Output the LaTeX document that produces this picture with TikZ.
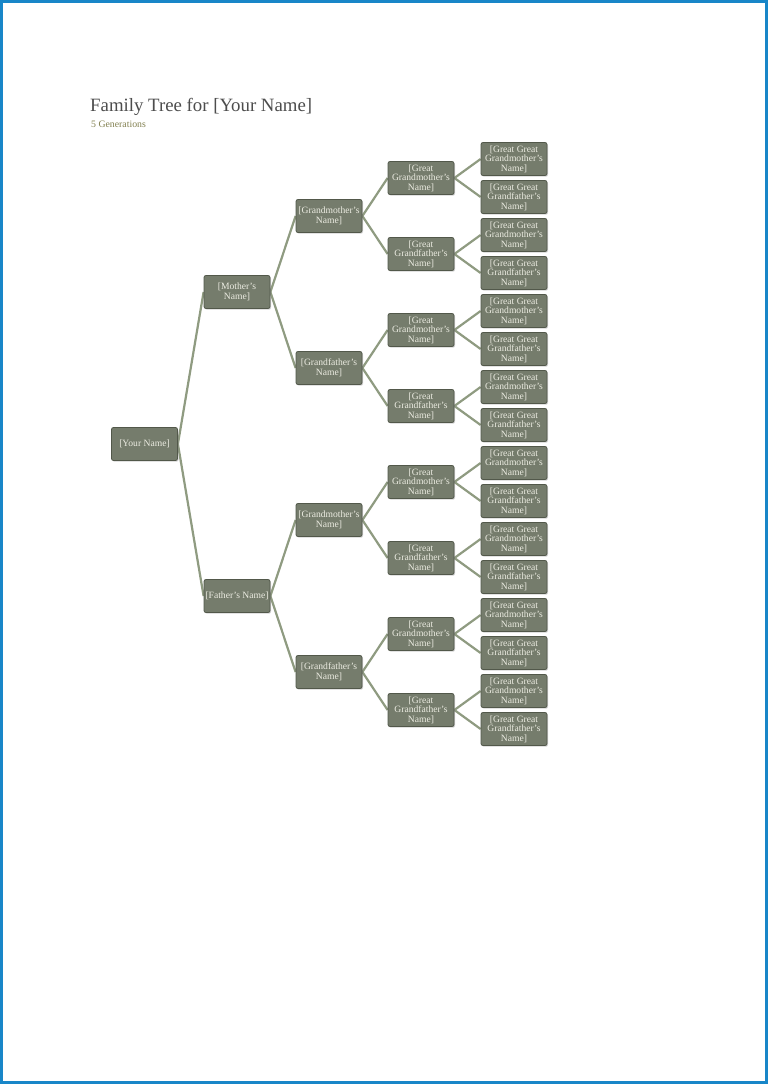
\documentclass[tikz,border=0pt]{standalone}
\usepackage{fontspec}
\setmainfont{Liberation Serif}
\usetikzlibrary{shadows}
\pgfdeclarelayer{background}
\pgfsetlayers{background,main}
\definecolor{boxfill}{RGB}{117,124,108}
\definecolor{boxedge}{RGB}{82,88,74}
\definecolor{linkc}{RGB}{143,155,129}
\definecolor{frameblue}{RGB}{24,134,200}
\definecolor{titlec}{RGB}{77,77,77}
\definecolor{subc}{RGB}{130,128,80}
\definecolor{boxtext}{RGB}{236,236,226}
\tikzset{
  person/.style={draw=boxedge, line width=0.8pt, fill=boxfill, rounded corners=2pt,
    minimum width=66pt, minimum height=33pt, inner sep=1pt, align=center,
    text=boxtext, font=\fontsize{9.6}{9.6}\selectfont,
    drop shadow={shadow xshift=1pt, shadow yshift=-1.2pt, opacity=0.35}},
  link/.style={draw=linkc, line width=2.2pt},
  titletext/.style={anchor=base west, inner sep=0pt, text=titlec, font=\fontsize{18.8}{20}\selectfont},
  subtext/.style={anchor=base west, inner sep=0pt, text=subc, font=\fontsize{9.8}{11}\selectfont},
}
\begin{document}
\begin{tikzpicture}[x=1pt,y=-1pt]
\useasboundingbox (0,0) rectangle (768,1084);
\begin{pgfonlayer}{background}
\fill[white] (0,0) rectangle (768,1084);
\end{pgfonlayer}
\draw[frameblue, line width=3pt] (1.5,1.5) rectangle (766.5,1082.5);

\node[titletext] (title) at (90,111) {Family Tree for [Your Name]};
\node[subtext] (sub) at (91,127) {5 Generations};

\node[person] (me) at (144.5,444) {[Your Name]};
\node[person] (mo) at (237,292) {[Mother’s\\Name]};
\node[person] (fa) at (237,596) {[Father’s Name]};

\foreach \j/\w in {1/mother,2/father,3/mother,4/father}
  \node[person] (c\j) at (329,{216+152*(\j-1)}) {[Grand\w’s\\Name]};

\foreach \j/\w in {1/mother,2/father,3/mother,4/father,5/mother,6/father,7/mother,8/father}
  \node[person] (d\j) at (421,{178+76*(\j-1)}) {[Great\\Grand\w’s\\Name]};

\foreach \j/\w in {1/mother,2/father,3/mother,4/father,5/mother,6/father,7/mother,8/father,
                   9/mother,10/father,11/mother,12/father,13/mother,14/father,15/mother,16/father}
  \node[person] (e\j) at (514,{159+38*(\j-1)}) {[Great Great\\Grand\w’s\\Name]};

\begin{pgfonlayer}{background}
  \draw[link] (me.east) -- (mo.west);
  \draw[link] (me.east) -- (fa.west);
  \draw[link] (mo.east) -- (c1.west);
  \draw[link] (mo.east) -- (c2.west);
  \draw[link] (fa.east) -- (c3.west);
  \draw[link] (fa.east) -- (c4.west);
  \foreach \j [evaluate=\j as \a using int(2*\j-1), evaluate=\j as \b using int(2*\j)] in {1,...,4} {
    \draw[link] (c\j.east) -- (d\a.west);
    \draw[link] (c\j.east) -- (d\b.west);
  }
  \foreach \j [evaluate=\j as \a using int(2*\j-1), evaluate=\j as \b using int(2*\j)] in {1,...,8} {
    \draw[link] (d\j.east) -- (e\a.west);
    \draw[link] (d\j.east) -- (e\b.west);
  }
\end{pgfonlayer}
\end{tikzpicture}
\end{document}
